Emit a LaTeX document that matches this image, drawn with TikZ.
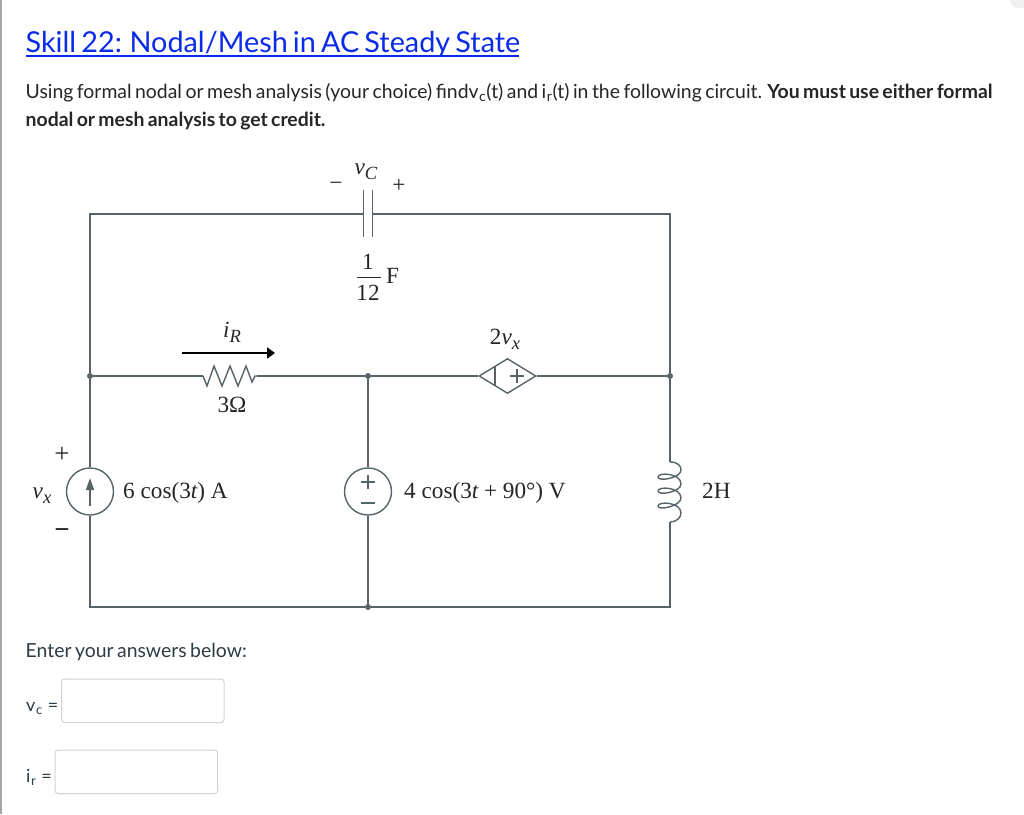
\documentclass[tikz,border=0pt]{standalone}
\usepackage{fontspec}
\setmainfont{Lato}[WordSpace=0.7]
\newfontfamily\mf{Liberation Serif}
\usetikzlibrary{shapes.geometric,arrows.meta,decorations.pathmorphing}
\definecolor{wire}{HTML}{56646A}
\definecolor{ink}{HTML}{2D3B45}
\definecolor{link}{HTML}{0B2BE8}
\definecolor{boxline}{HTML}{D2D2D2}
\newcommand{\mi}[1]{{\itshape #1}}
\newcommand{\lowsub}[1]{\kern0.6pt\raisebox{-0.2em}{\scalebox{0.72}{#1}}\kern0.6pt}
\newcommand{\mathsub}[1]{\raisebox{-0.24em}{\scalebox{0.8}{#1}}}
\tikzset{
  wireline/.style={draw=wire,line width=1.8pt},
  thin part/.style={draw=wire,line width=1.4pt},
  dot/.style={circle,fill=wire,inner sep=0pt,minimum size=6pt},
  srcshape/.style={circle,draw=wire,line width=1.4pt,inner sep=0pt,minimum size=47pt,fill=white},
  ctext/.style={font=\mf\fontsize{23.2}{25}\selectfont,text=black!85,inner sep=0pt},
  bline/.style={anchor=base west,inner sep=0pt},
  answer/.style={draw=boxline,line width=1pt,rounded corners=3pt,fill=white,anchor=north west,inner sep=0pt,minimum width=162.5pt,minimum height=43.5pt},
}
\begin{document}
\begin{tikzpicture}[x=1pt,y=-1pt]
\useasboundingbox (0,0) rectangle (1024,814);
\fill[white] (0,0) rectangle (1024,814);
\fill[black!35] (0,0) rectangle (1.5,814);
\fill[black!6] (1010,0) .. controls (1011,6) and (1014,8) .. (1019,8) -- (1024,8) -- (1024,0) -- cycle;

% page text
\node[bline,text=link,font=\fontsize{28.8}{32}\selectfont] (title) at (25.5,52) {Skill 22: Nodal/Mesh in AC Steady State};
\fill[link] (25.5,55) rectangle (519,57);
\node[bline,text=black!85,font=\fontsize{19.4}{22}\selectfont] (line1) at (25.5,98)
  {Using formal nodal or mesh analysis (your choice) findv\lowsub{c}(t) and i\lowsub{r}(t) in the following circuit. \textbf{You must use either formal}};
\node[bline,text=black!85,font=\bfseries\fontsize{19.4}{22}\selectfont] (line2) at (25.5,126) {nodal or mesh analysis to get credit.};
\node[bline,text=ink,font=\fontsize{19.4}{22}\selectfont] (enter) at (25.5,657) {Enter your answers below:};
\node[answer] (boxc) at (61,678.5) {};
\node[answer] (boxr) at (54.5,749.5) {};
\node[bline,text=ink,font=\fontsize{18}{20}\selectfont] (vc) at (26,711) {v\lowsub{c}\kern5pt=};
\node[bline,text=ink,font=\fontsize{18}{20}\selectfont] (ir) at (26,782) {i\lowsub{r}\kern5pt=};

% circuit junctions
\coordinate (tl) at (90,214);
\coordinate (tr) at (670,214);
\coordinate (bl) at (90,607);
\coordinate (br) at (670,607);
\coordinate (capL) at (363.5,214);
\coordinate (capR) at (372.5,214);
\coordinate (resL) at (203,376);
\coordinate (resR) at (257,376);
\coordinate (indT) at (670,462);
\coordinate (indB) at (670,522);
\node[dot] (nl) at (90,376) {};
\node[dot] (nm) at (368,376) {};
\node[dot] (nr) at (670,376) {};
\node[dot] (nb) at (368,607) {};
\node[srcshape] (cs) at (90,491.5) {};
\node[srcshape] (vs) at (368,491.5) {};
\node[diamond,draw=wire,line width=1.4pt,inner sep=0pt,minimum width=57pt,minimum height=35pt,fill=white] (ds) at (507.5,376) {};

% wires
\draw[wireline] (nl) -- (tl) -- (capL);
\draw[wireline] (capR) -- (tr) -- (nr);
\draw[wireline] (nl) -- (cs);
\draw[wireline] (cs) -- (bl) -- (nb);
\draw[wireline] (nb) -- (br) -- (indB);
\draw[wireline] (indT) -- (nr);
\draw[wireline] (nl) -- (resL);
\draw[wireline] (resR) -- (nm);
\draw[wireline] (nm) -- (ds);
\draw[wireline] (ds) -- (nr);
\draw[wireline] (nm) -- (vs);
\draw[wireline] (vs) -- (nb);

% capacitor
\draw[wireline] (363.5,190) -- (363.5,237);
\draw[wireline] (372.5,190) -- (372.5,237);

% resistor
\draw[thin part,line join=miter] (resL) -- (207,386) -- (214,366) -- (222,386) -- (230,366) -- (238,386) -- (246,366) -- (252,382) -- (255,376) -- (resR);

% inductor
\draw[thin part,line join=round] (indT) .. controls (678,462) and (681,466) .. (681,470)
  .. controls (681,478) and (658,482) .. (658,477) .. controls (658,472) and (681,473) .. (681,484)
  .. controls (681,492) and (658,496) .. (658,491) .. controls (658,486) and (681,487) .. (681,498)
  .. controls (681,506) and (658,511) .. (658,506) .. controls (658,501) and (681,502) .. (681,513)
  .. controls (681,518) and (676,522) .. (indB);

% source marks
\draw[thin part,-{Triangle[length=12pt,width=8pt]}] (90,506) -- (90,478);
\draw[thin part] (495,366) -- (495,386);
\draw[thin part] (510,376) -- (524,376);
\draw[thin part] (517,369) -- (517,383);
\draw[thin part,line width=1.1pt] (361,482) -- (375,482);
\draw[thin part,line width=1.1pt] (368,475) -- (368,489);
\draw[thin part,line width=1.1pt] (361,503) -- (375,503);

% current arrow
\draw[black,line width=2.6pt,-{Triangle[length=8pt,width=11pt]}] (182,353) -- (275,353);

% fraction bar
\draw[black!85,line width=1pt] (357,277) -- (381,277);

% circuit labels
\node[ctext,anchor=base] (lvc) at (366,174) {\mi{v}\mathsub{\mi{C}}};
\node[ctext,anchor=center] (lm) at (336,186) {−};
\node[ctext,anchor=center] (lp) at (399,186) {+};
\node[ctext,anchor=base] (l1) at (368,269) {1};
\node[ctext,anchor=base] (l12) at (368,300) {12};
\node[ctext,anchor=base west] (lF) at (386,283) {F};
\node[ctext,anchor=base] (lir) at (232,337) {\mi{i}\mathsub{\mi{R}}};
\node[ctext,anchor=base] (l2vx) at (505,344) {2\mi{v}\mathsub{\mi{x}}};
\node[ctext,anchor=base] (l3o) at (232,412) {3Ω};
\node[ctext,anchor=center,font=\mf\fontsize{27}{29}\selectfont] (vxp) at (62,455) {+};
\node[ctext,anchor=center,font=\mf\bfseries\fontsize{27}{29}\selectfont] (vxm) at (62,534) {−};
\node[ctext,anchor=base] (lvx) at (42,498) {\mi{v}\mathsub{\mi{x}}};
\node[ctext,anchor=base west] (lcs) at (123,498) {6 cos(3\mi{t}) A};
\node[ctext,anchor=base west] (lvs) at (404,498) {4 cos(3\mi{t} + 90°) V};
\node[ctext,anchor=base west] (l2h) at (702,498) {2H};
\end{tikzpicture}
\end{document}
